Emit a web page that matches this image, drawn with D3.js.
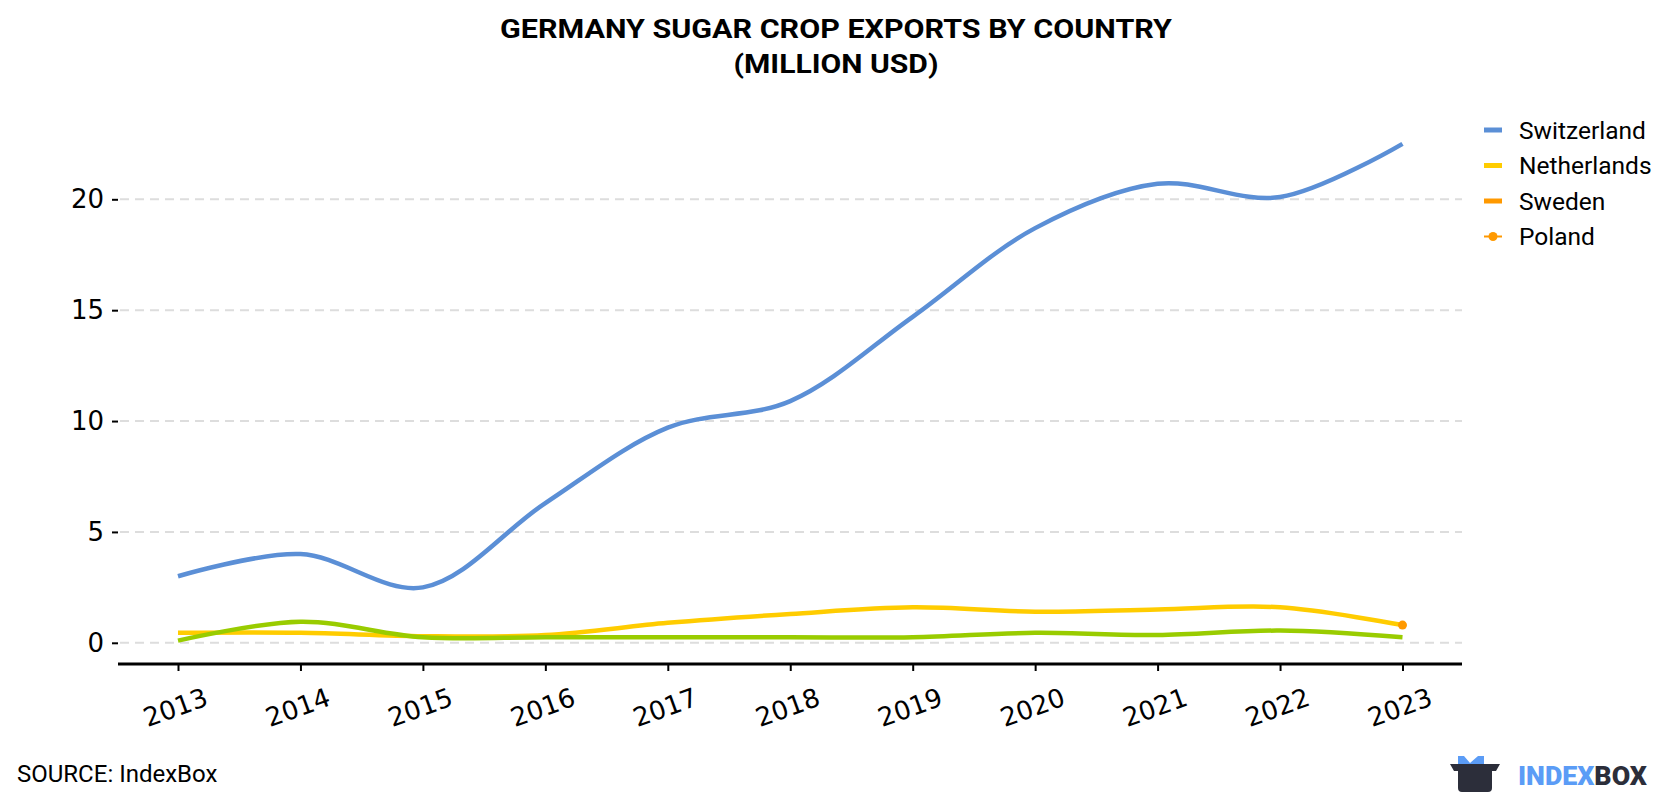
<!DOCTYPE html>
<html>
<head>
<meta charset="utf-8">
<script src="https://cdn.jsdelivr.net/npm/d3@7"></script>
<style>
  body { margin: 0; background: #fff; }
  svg { display: block; }
</style>
</head>
<body>
<div id="chart"></div>
<script>
// data (million USD)
const years = [2013, 2014, 2015, 2016, 2017, 2018, 2019, 2020, 2021, 2022, 2023];
const switzerland = [3.0, 4.0, 2.5, 6.3, 9.7, 10.9, 14.7, 18.7, 20.7, 20.1, 22.5];
const netherlands = [0.45, 0.45, 0.3, 0.35, 0.9, 1.3, 1.6, 1.4, 1.5, 1.6, 0.8];
const otherGreen = [0.1, 0.95, 0.25, 0.25, 0.25, 0.25, 0.25, 0.45, 0.35, 0.55, 0.25];
const polandYears = [2023];
const poland = [0.8];
const yTicks = [0, 5, 10, 15, 20];
const legendNames = ["Switzerland", "Netherlands", "Sweden", "Poland"];
const legendColors = ["#5b8fd6", "#ffcc00", "#ff9900", "#ff9900"];

const width = 1680, height = 800;

const svg = d3.select("#chart").append("svg")
    .attr("width", width)
    .attr("height", height);

// scales
const x = d3.scaleLinear().domain([2013, 2023]).range([178, 1402.5]);
const y = d3.scaleLinear().domain([0, 20]).range([642.8, 199.3]);

// title (the original font is a bit wider than Roboto, so stretch it)
svg.append("text")
    .attr("x", 836).attr("y", 38)
    .attr("text-anchor", "middle")
    .attr("textLength", 672)
    .attr("lengthAdjust", "spacingAndGlyphs")
    .style("font-family", "Roboto, sans-serif")
    .style("font-weight", "bold")
    .style("font-size", "26px")
    .text("GERMANY SUGAR CROP EXPORTS BY COUNTRY");
svg.append("text")
    .attr("x", 836).attr("y", 73)
    .attr("text-anchor", "middle")
    .attr("textLength", 205)
    .attr("lengthAdjust", "spacingAndGlyphs")
    .style("font-family", "Roboto, sans-serif")
    .style("font-weight", "bold")
    .style("font-size", "26px")
    .text("(MILLION USD)");

// grid lines
svg.append("g").selectAll("line")
    .data(yTicks)
    .enter().append("line")
    .attr("x1", 120).attr("x2", 1462)
    .attr("y1", d => y(d)).attr("y2", d => y(d))
    .attr("stroke", "#dddddd")
    .attr("stroke-width", 2)
    .attr("stroke-dasharray", "9,6");

// y axis (ticks + labels only)
const yAxis = svg.append("g")
    .attr("transform", "translate(118,0)")
    .call(d3.axisLeft(y).tickValues(yTicks).tickSize(6).tickPadding(8));
yAxis.select(".domain").remove();
yAxis.selectAll(".tick line").attr("stroke", "#000").attr("stroke-width", 2);
yAxis.selectAll(".tick text")
    .style("font-family", "'DejaVu Sans', sans-serif")
    .style("font-size", "26px")
    .attr("fill", "#000");

// x axis
const xAxis = svg.append("g")
    .attr("transform", "translate(0,664)")
    .call(d3.axisBottom(x).tickValues(years).tickFormat(d3.format("d")).tickSize(7).tickSizeOuter(0));
xAxis.select(".domain").remove();
xAxis.append("line")
    .attr("x1", 118).attr("x2", 1462)
    .attr("stroke", "#000").attr("stroke-width", 3);
xAxis.selectAll(".tick line").attr("stroke", "#000").attr("stroke-width", 2);
xAxis.selectAll(".tick text")
    .style("font-family", "'DejaVu Sans', sans-serif")
    .style("font-size", "26px")
    .attr("fill", "#000")
    .attr("text-anchor", "middle")
    .attr("y", 0).attr("dy", 0)
    .attr("transform", "translate(0,52) rotate(-20)");

// lines
const line = d3.line()
    .x((d, i) => x(years[i]))
    .y(d => y(d))
    .curve(d3.curveCatmullRom.alpha(0.5));

// lower lines first, green above yellow where they overlap
svg.append("path").datum(netherlands)
    .attr("d", line).attr("fill", "none")
    .attr("stroke", "#ffcc00").attr("stroke-width", 4.5);
svg.append("path").datum(otherGreen)
    .attr("d", line).attr("fill", "none")
    .attr("stroke", "#99cc00").attr("stroke-width", 4.5);
svg.append("path").datum(switzerland)
    .attr("d", line).attr("fill", "none")
    .attr("stroke", "#5b8fd6").attr("stroke-width", 4.5);

// Poland, single point
svg.append("g").selectAll("circle")
    .data(poland)
    .enter().append("circle")
    .attr("cx", (d, i) => x(polandYears[i]))
    .attr("cy", d => y(d))
    .attr("r", 4.5)
    .attr("fill", "#ff9900");

// legend
const legend = svg.append("g").attr("transform", "translate(1484,130)");
const item = legend.selectAll("g")
    .data(legendNames)
    .enter().append("g")
    .attr("transform", (d, i) => `translate(0, ${i * 35.5})`);
item.append("line")
    .attr("x1", 0).attr("x2", 18)
    .attr("stroke", (d, i) => legendColors[i])
    .attr("stroke-width", 5);
item.filter(d => d === "Poland").append("circle")
    .attr("cx", 9).attr("r", 4.5)
    .attr("fill", "#ff9900");
item.filter(d => d === "Poland").select("line").attr("stroke-width", 2);
item.append("text")
    .attr("x", 35).attr("dy", "0.35em")
    .style("font-family", "Roboto, sans-serif")
    .style("font-size", "24.5px")
    .text(d => d);

// source
svg.append("text")
    .attr("x", 17).attr("y", 782)
    .style("font-family", "Roboto, sans-serif")
    .style("font-size", "24px")
    .text("SOURCE: IndexBox");

// logo
const logo = svg.append("g").attr("transform", "translate(1450,752)");
logo.append("path")
    .attr("d", "M8,4 L14,4 L20,11 L28,4 L34,4 L34,22 L8,22 Z")
    .attr("fill", "#5b9cf6");
logo.append("path")
    .attr("d", "M0,12 L50,12 L46,19 L42,19 L42,36 Q42,40 38,40 L12,40 Q8,40 8,36 L8,19 L4,19 Z")
    .attr("fill", "#2c2e3a");
logo.append("text")
    .attr("x", 68).attr("y", 33)
    .attr("textLength", 129)
    .attr("lengthAdjust", "spacingAndGlyphs")
    .style("font-family", "Roboto, sans-serif")
    .style("font-weight", "900")
    .style("font-size", "25px")
    .html('<tspan fill="#5b9cf6">INDEX</tspan><tspan fill="#2c2e3a">BOX</tspan>');
</script>
</body>
</html>
